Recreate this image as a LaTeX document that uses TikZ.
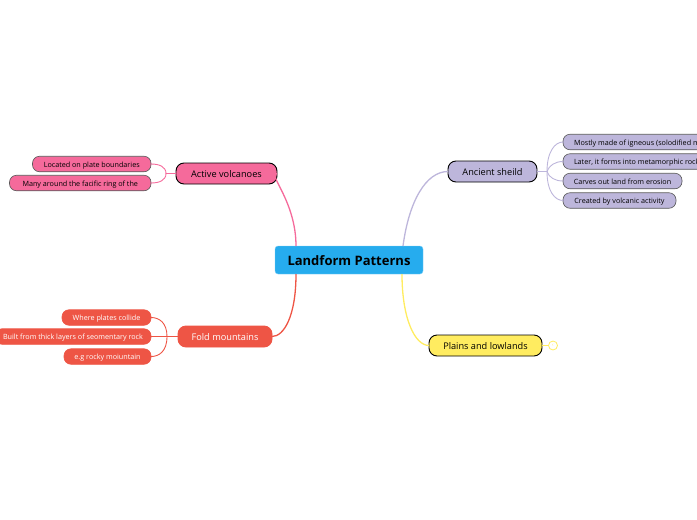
\documentclass[tikz,border=0pt]{standalone}
\usepackage{fontspec}
\setmainfont{Open Sans}
\usetikzlibrary{positioning,calc}
\definecolor{myPink}{HTML}{F56A9B}
\definecolor{myRed}{HTML}{EE5545}
\definecolor{myLilac}{HTML}{BDB6DB}
\definecolor{myYellow}{HTML}{FFEC60}
\definecolor{myBlue}{HTML}{26ACEE}
\begin{document}
\begin{tikzpicture}[x=1pt,y=1pt,every text node part/.style={align=center}]
\tikzset{myMain/.style={draw=black,line width=.9pt,rounded corners=8pt,minimum height=21pt,inner sep=0pt,outer sep=0pt,text height=9pt,text depth=2pt,font=\fontsize{9.2}{11}\selectfont}}
\tikzset{mySub/.style={draw=black!65,line width=.6pt,rounded corners=7pt,minimum height=15.5pt,inner sep=0pt,outer sep=0pt,text height=7pt,text depth=1pt,font=\fontsize{7.2}{9}\selectfont}}
\tikzset{myLink/.style={line width=1.3pt}}
\tikzset{myTwig/.style={line width=.9pt}}

\useasboundingbox (0,0) rectangle (697,-520);

\node[fill=myBlue,draw=myBlue!60,rounded corners=3pt,minimum width=148pt,minimum height=28pt,inner sep=0pt,outer sep=0pt,text height=13pt,text depth=2pt,font=\fontsize{13}{15}\selectfont\bfseries] (root) at (349,-260) {Landform Patterns};

% main topics
\node[myMain,fill=myPink,minimum width=101pt,above left=62pt and -2pt of root] (volcano) {Active volcanoes};
\node[myMain,fill=myRed,draw=myRed,text=white,minimum width=94pt,below left=52pt and 3pt of root] (fold) {Fold mountains};
\node[myMain,fill=myLilac,minimum width=89pt,above right=64pt and 25pt of root] (shield) {Ancient sheild};
\node[myMain,fill=myYellow,minimum width=113pt,below right=61pt and 6pt of root] (plains) {Plains and lowlands};
\node[circle,draw=myYellow,line width=.8pt,minimum size=9pt,inner sep=0pt,outer sep=0pt,right=6.5pt of plains,font=\fontsize{5}{5}\selectfont,text=myYellow] (more) {‹};

% active volcanoes
\node[mySub,fill=myPink,minimum width=118.5pt,left=25pt of volcano,yshift=9.5pt] (located) {Located on plate boundaries};
\node[mySub,fill=myPink,minimum width=141.5pt,left=25pt of volcano,yshift=-9.5pt] (many) {Many around the facific ring of the};

% fold mountains
\node[mySub,fill=myRed,draw=myRed,text=white,minimum width=89pt,left=27pt of fold,yshift=19pt] (plates) {Where plates collide};
\node[mySub,fill=myRed,draw=myRed,text=white,minimum width=156pt,left=27pt of fold] (layers) {Built from thick layers of seomentary rock};
\node[mySub,fill=myRed,draw=myRed,text=white,minimum width=87pt,left=27pt of fold,yshift=-20pt] (rocky) {e.g rocky moiuntain};

% ancient shield
\node[mySub,fill=myLilac,right=26pt of shield,yshift=29.5pt] (igneous) {\makebox[150pt][l]{\hspace{11pt}Mostly made of igneous (solodified m}};
\node[mySub,fill=myLilac,right=26pt of shield,yshift=10pt] (later) {\makebox[150pt][l]{\hspace{11pt}Later, it forms into metamorphic rock}};
\node[mySub,fill=myLilac,minimum width=119pt,right=26pt of shield,yshift=-9.5pt] (carves) {Carves out land from erosion};
\node[mySub,fill=myLilac,minimum width=113pt,right=26pt of shield,yshift=-29pt] (created) {Created by volcanic activity};

% links from the root
\draw[myLink,myPink] ([xshift=21pt]root.north west) .. controls +(0,45) and +(-10,0) .. (volcano.east);
\draw[myLink,myRed] ([xshift=21pt]root.south west) .. controls +(0,-42) and +(12,0) .. (fold.east);
\draw[myLink,myLilac] ([xshift=-20pt]root.north east) .. controls +(6,45) and +(-22,0) .. (shield.west);
\draw[myLink,myYellow] ([xshift=-21pt]root.south east) .. controls +(0,-45) and +(-14,0) .. (plains.west);
\draw[myTwig,myYellow] (plains.east) -- (more);

% twigs
\draw[myTwig,myPink] (volcano.west) -- ++(-10,0) .. controls +(0,7) and +(8,0) .. (located.east);
\draw[myTwig,myPink] (volcano.west) -- ++(-10,0) .. controls +(0,-7) and +(8,0) .. (many.east);
\draw[myTwig,myRed] (fold.west) -- ++(-11,0) .. controls +(0,14) and +(8,0) .. (plates.east);
\draw[myTwig,myRed] (fold.west) -- (layers.east);
\draw[myTwig,myRed] (fold.west) -- ++(-11,0) .. controls +(0,-15) and +(8,0) .. (rocky.east);
\draw[myTwig,myLilac] (shield.east) -- ++(10,0) .. controls +(0,20) and +(-8,0) .. (igneous.west);
\draw[myTwig,myLilac] (shield.east) -- ++(10,0) .. controls +(2,6) and +(-8,0) .. (later.west);
\draw[myTwig,myLilac] (shield.east) -- ++(10,0) .. controls +(2,-6) and +(-8,0) .. (carves.west);
\draw[myTwig,myLilac] (shield.east) -- ++(10,0) .. controls +(0,-20) and +(-8,0) .. (created.west);
\end{tikzpicture}
\end{document}
